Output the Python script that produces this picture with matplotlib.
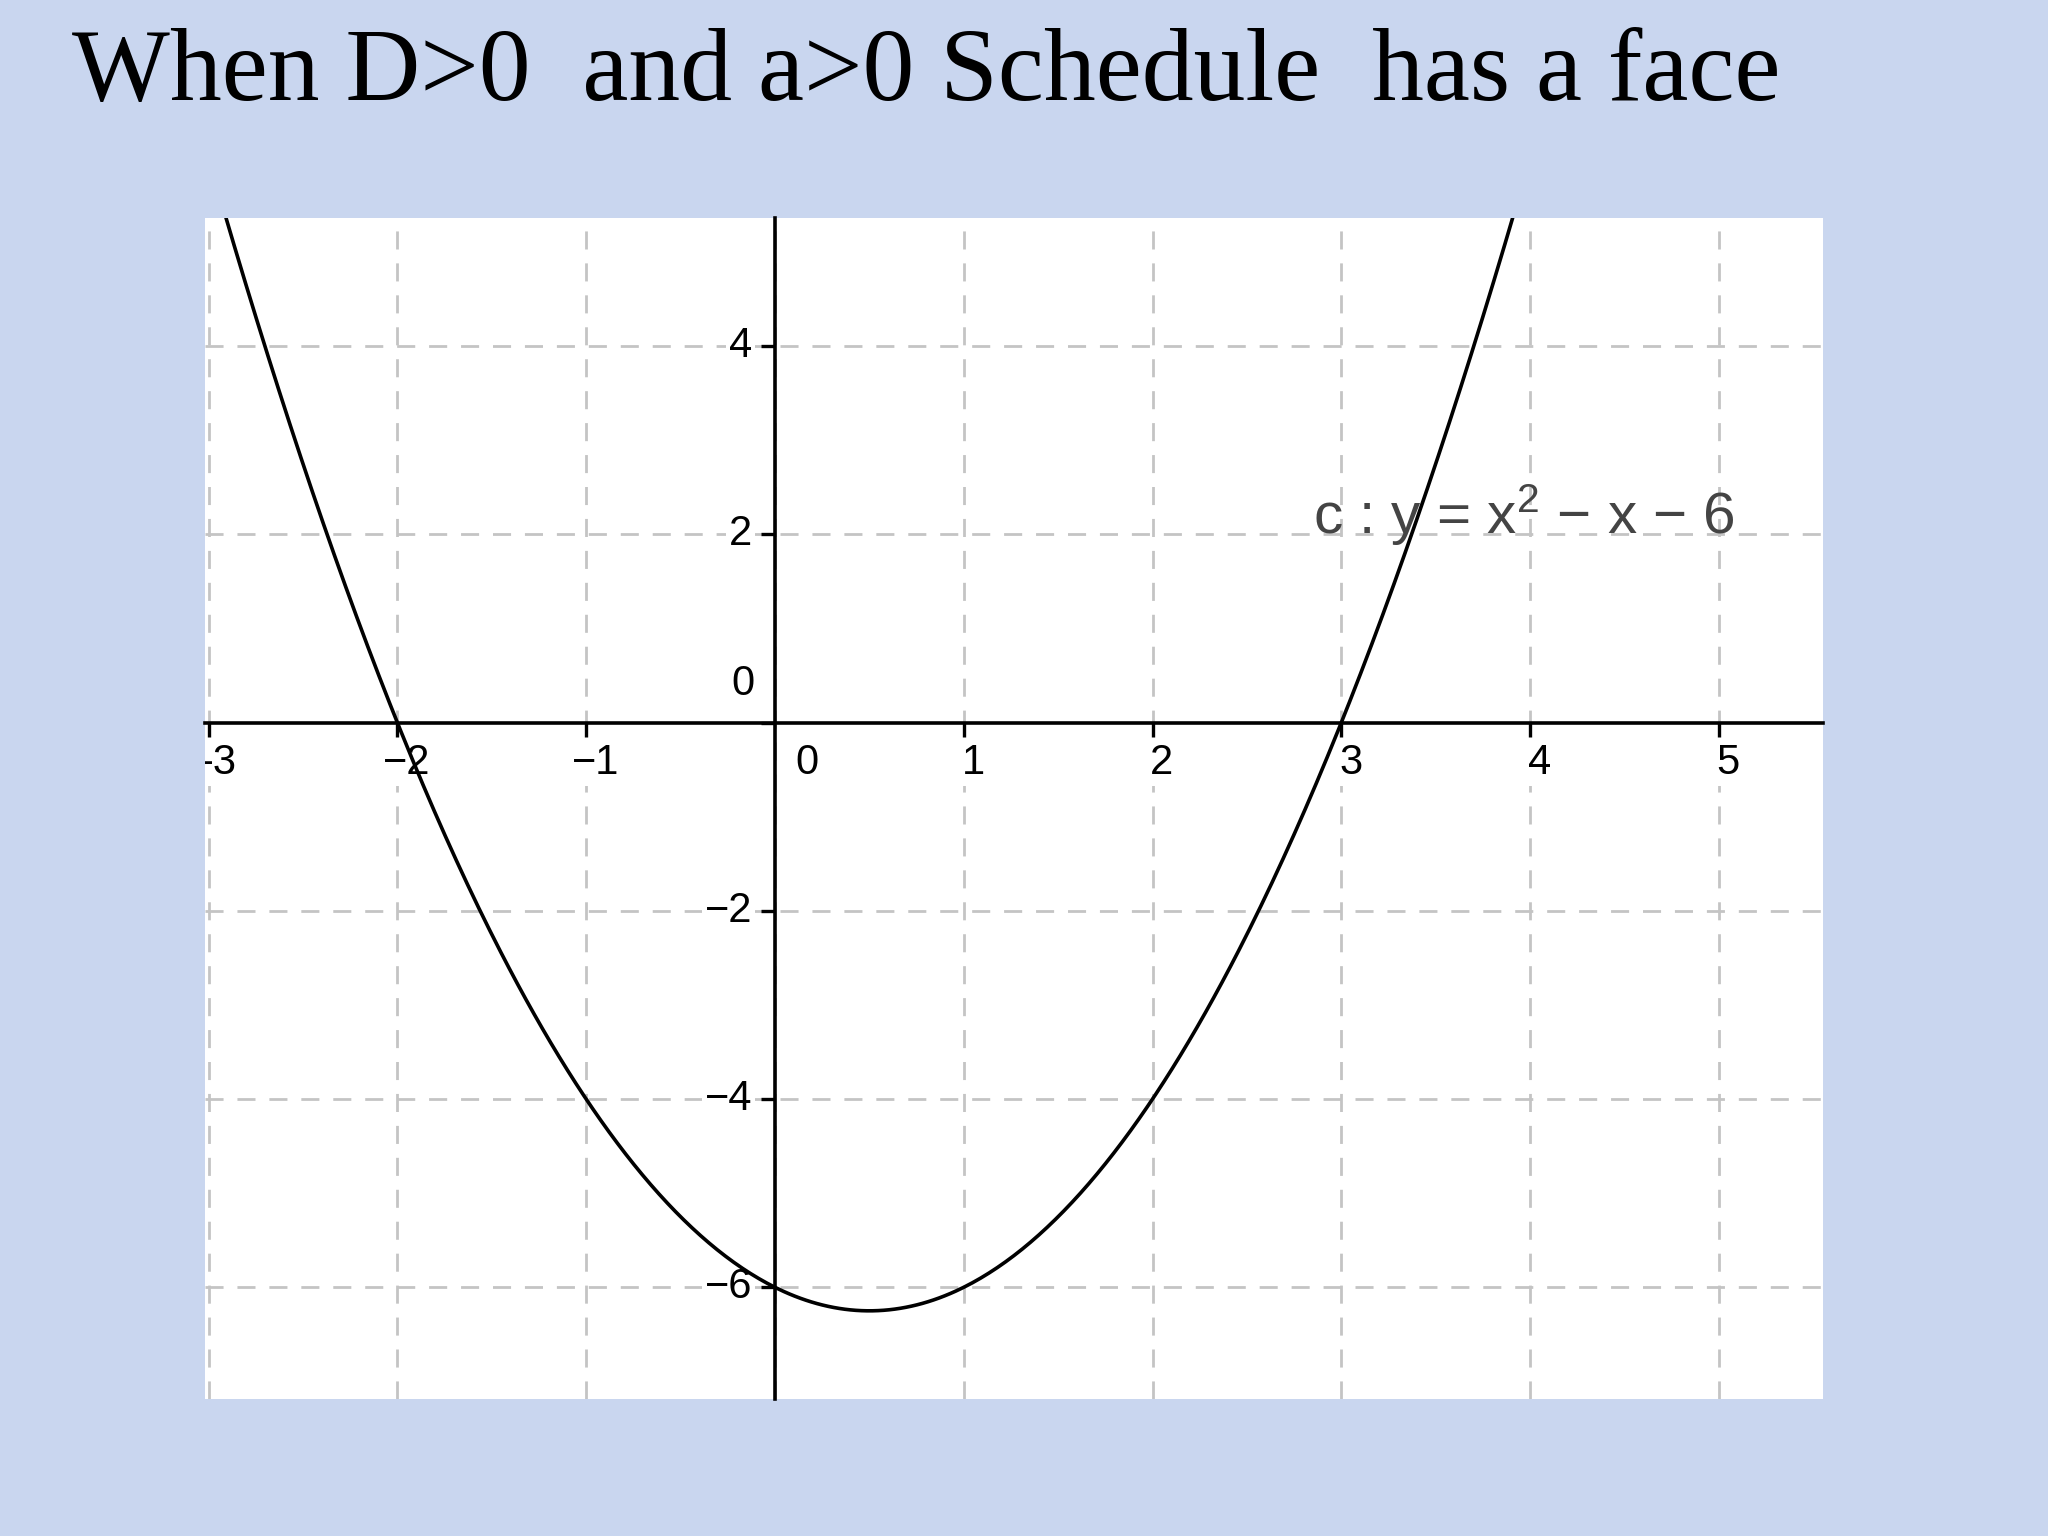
import matplotlib.pyplot as plt
import numpy as np

plt.rcParams['mathtext.fontset'] = 'custom'
plt.rcParams['mathtext.rm'] = 'Liberation Sans'
plt.rcParams['mathtext.it'] = 'Liberation Sans'

# curve c : y = a*x^2 + b*x + c
coef = [1, -1, -6]
x_ticks = [-3, -2, -1, 1, 2, 3, 4, 5]
x_labels = ['-3', '\u22122', '\u22121', '1', '2', '3', '4', '5']
y_ticks = [4, 2, -2, -4, -6]
y_labels = ['4', '2', '\u22122', '\u22124', '\u22126']
x_grid = [-3, -2, -1, 0, 1, 2, 3, 4, 5]
y_grid = [4, 2, -2, -4, -6]

title = 'When D>0  and a>0 Schedule  has a face'
label = 'c : y = x$^{2}$ \u2212 x \u2212 6'

BG = '#C9D6EF'
GRID = '#C4C4C4'

fig = plt.figure(figsize=(20.48, 15.36), dpi=100, facecolor=BG)
ax = fig.add_axes([0.1, 0.089, 0.79, 0.769])
ax.set_facecolor('white')
ax.set_xlim(-3.02, 5.55)
ax.set_ylim(-7.19, 5.36)

for gx in x_grid:
    l, = ax.plot([gx, gx], [-7.19, 5.36], color=GRID, lw=2, zorder=1)
    l.set_dashes([6.5, 5])
for gy in y_grid:
    l, = ax.plot([-3.02, 5.55], [gy, gy], color=GRID, lw=2, zorder=1)
    l.set_dashes([6.5, 5])

xs = np.linspace(-3.2, 5.6, 600)
ys = np.polyval(coef, xs)
ax.plot(xs, ys, color='black', lw=2.6, zorder=4)

# axes through the origin
for s in ['top', 'right']:
    ax.spines[s].set_visible(False)
ax.spines['left'].set_position(('data', 0))
ax.spines['bottom'].set_position(('data', 0))
ax.spines['left'].set_linewidth(2.6)
ax.spines['bottom'].set_linewidth(2.6)
ax.spines['left'].set_zorder(3)
ax.spines['bottom'].set_zorder(3)
ax.set_xticks(x_ticks)
ax.set_yticks(y_ticks + [0])
ax.tick_params(axis='both', length=10, width=2.4, direction='out', labelleft=False, labelbottom=False)

lab_font = dict(family='Liberation Sans', fontsize=30, color='black')
box = dict(facecolor='white', edgecolor='none', pad=2)
for tx, tl in zip(x_ticks, x_labels):
    t = ax.text(tx + 0.05, -0.22, tl, ha='center', va='top', bbox=box, zorder=2, **lab_font)
    t.set_clip_on(True)
for ty, tl in zip(y_ticks, y_labels):
    ax.text(-0.12, ty, tl, ha='right', va='center', bbox=box, zorder=2, **lab_font)
ax.text(0.17, -0.22, '0', ha='center', va='top', bbox=box, zorder=2, **lab_font)
ax.text(-0.17, 0.2, '0', ha='center', va='bottom', bbox=box, zorder=2, **lab_font)

ax.text(2.85, 2.0, label, ha='left', va='baseline', family='Liberation Sans', fontsize=42,
        color='#444444', zorder=5)

fig.text(0.035, 0.935, title, ha='left', va='baseline', family='Liberation Serif',
         fontsize=74.6, color='black')

fig.savefig('out.png', dpi=100, facecolor=BG)
